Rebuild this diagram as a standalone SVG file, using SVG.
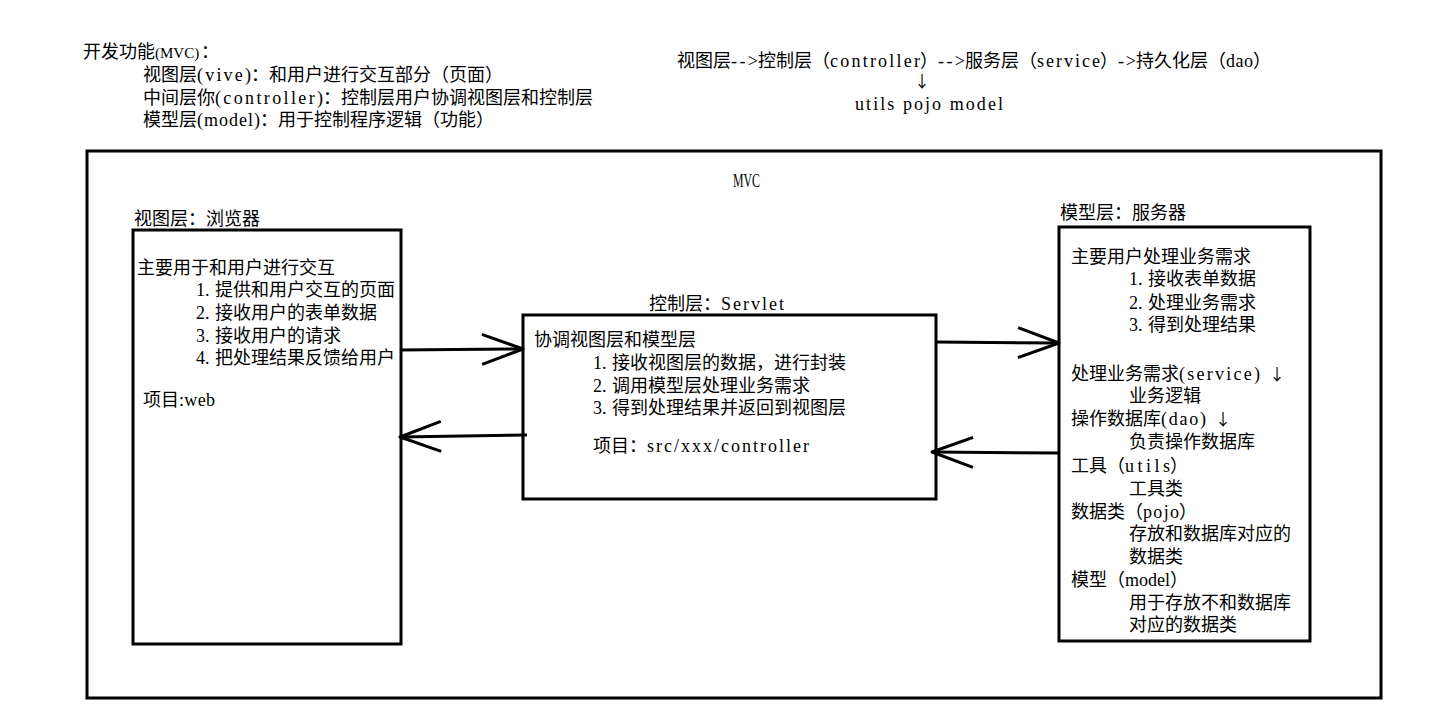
<svg xmlns="http://www.w3.org/2000/svg" width="1444" height="726" viewBox="0 0 1444 726">
<style>
text { font-family: "Liberation Serif", "Noto Sans CJK SC", serif; font-size: 18px; fill: #000; }
.l { font-family: "Liberation Serif", serif; }
.ar { font-family: "Noto Sans CJK SC", sans-serif; font-size: 16px; }
.box { fill: #fff; stroke: #000; stroke-width: 3; }
.frame { fill: none; stroke: #000; stroke-width: 3; }
.conn { fill: none; stroke: #000; stroke-width: 3; marker-end: url(#open); }
</style>
<defs>
<marker id="open" markerUnits="userSpaceOnUse" markerWidth="50" markerHeight="40" viewBox="0 0 50 40" refX="45" refY="20" orient="auto" overflow="visible">
<path d="M4,5 L45,20 L4,35" fill="none" stroke="#000" stroke-width="3" stroke-linejoin="round"/>
</marker>
</defs>
<rect width="1444" height="726" fill="#fff"/>

<g id="notes-mvc">
<text x="83" y="58">开发功能<tspan class="l" x="155" font-size="15">(MVC)</tspan><tspan x="201">：</tspan></text>
<text x="143" y="81">视图层<tspan class="l" x="197" textLength="54">(vive)</tspan><tspan x="251">：和用户进行交互部分（页面）</tspan></text>
<text x="143" y="104">中间层你<tspan class="l" x="215" textLength="108">(controller)</tspan><tspan x="323">：控制层用户协调视图层和控制层</tspan></text>
<text x="143" y="126">模型层<tspan class="l" x="197" textLength="63">(model)</tspan><tspan x="260">：用于控制程序逻辑（功能）</tspan></text>
</g>

<g id="notes-flow">
<text x="677" y="67">视图层<tspan class="l" x="731" textLength="27">--&gt;</tspan><tspan x="758">控制层（</tspan><tspan class="l" x="830" textLength="90">controller</tspan><tspan x="920">）</tspan><tspan class="l" x="938" textLength="27">--&gt;</tspan><tspan x="965">服务层（</tspan><tspan class="l" x="1037" textLength="63">service</tspan><tspan x="1100">）</tspan><tspan class="l" x="1118" textLength="18">-&gt;</tspan><tspan x="1136">持久化层（</tspan><tspan class="l" x="1226" textLength="27">dao</tspan><tspan x="1253">）</tspan></text>
<text class="ar" x="922" y="87" text-anchor="middle">↓</text>
<text class="l" x="855" y="110" textLength="148">utils pojo model</text>
</g>

<g id="mvc-frame">
<rect class="frame" x="87" y="151" width="1294" height="547"/>
<text class="l" x="733" y="187" textLength="27" lengthAdjust="spacingAndGlyphs">MVC</text>
</g>

<g id="view-layer">
<text x="134" y="225">视图层：浏览器</text>
<rect class="box" x="133" y="230" width="268" height="414"/>
<text x="137" y="274">主要用于和用户进行交互</text>
<text x="196" y="296">1.<tspan x="215">提供和用户交互的页面</tspan></text>
<text x="196" y="319">2.<tspan x="215">接收用户的表单数据</tspan></text>
<text x="196" y="342">3.<tspan x="215">接收用户的请求</tspan></text>
<text x="196" y="364">4.<tspan x="215">把处理结果反馈给用户</tspan></text>
<text x="143" y="406">项目<tspan class="l" x="179" textLength="36">:web</tspan></text>
</g>

<g id="controller-layer">
<text x="649" y="310">控制层：<tspan class="l" x="721" textLength="63">Servlet</tspan></text>
<rect class="box" x="523" y="315" width="413" height="184"/>
<text x="534" y="346">协调视图层和模型层</text>
<text x="593" y="369">1.<tspan x="612">接收视图层的数据，进行封装</tspan></text>
<text x="593" y="392">2.<tspan x="612">调用模型层处理业务需求</tspan></text>
<text x="593" y="414">3.<tspan x="612">得到处理结果并返回到视图层</tspan></text>
<text x="593" y="452">项目：<tspan class="l" x="647" textLength="162">src/xxx/controller</tspan></text>
</g>

<g id="model-layer">
<text x="1060" y="219">模型层：服务器</text>
<rect class="box" x="1059" y="227" width="251" height="414"/>
<text x="1071" y="263">主要用户处理业务需求</text>
<text x="1129" y="285">1.<tspan x="1148">接收表单数据</tspan></text>
<text x="1129" y="309">2.<tspan x="1148">处理业务需求</tspan></text>
<text x="1129" y="331">3.<tspan x="1148">得到处理结果</tspan></text>
<text x="1071" y="380">处理业务需求<tspan class="l" x="1179" textLength="81">(service)</tspan><tspan class="ar" x="1277" text-anchor="middle">↓</tspan></text>
<text x="1129" y="402">业务逻辑</text>
<text x="1071" y="425">操作数据库<tspan class="l" x="1161" textLength="45">(dao)</tspan><tspan class="ar" x="1223" text-anchor="middle">↓</tspan></text>
<text x="1129" y="448">负责操作数据库</text>
<text x="1071" y="472">工具（<tspan class="l" x="1125" textLength="45">utils</tspan><tspan x="1170">）</tspan></text>
<text x="1129" y="495">工具类</text>
<text x="1071" y="518">数据类（<tspan class="l" x="1143" textLength="36">pojo</tspan><tspan x="1179">）</tspan></text>
<text x="1129" y="540">存放和数据库对应的</text>
<text x="1129" y="563">数据类</text>
<text x="1071" y="586">模型（<tspan class="l" x="1125" textLength="45">model</tspan><tspan x="1170">）</tspan></text>
<text x="1129" y="609">用于存放不和数据库</text>
<text x="1129" y="631">对应的数据类</text>
</g>

<g id="connectors">
<path class="conn" d="M400,350 L523,349"/>
<path class="conn" d="M527,435 L400,437"/>
<path class="conn" d="M936,342 L1059,343"/>
<path class="conn" d="M1059,453 L932,452"/>
</g>
</svg>
